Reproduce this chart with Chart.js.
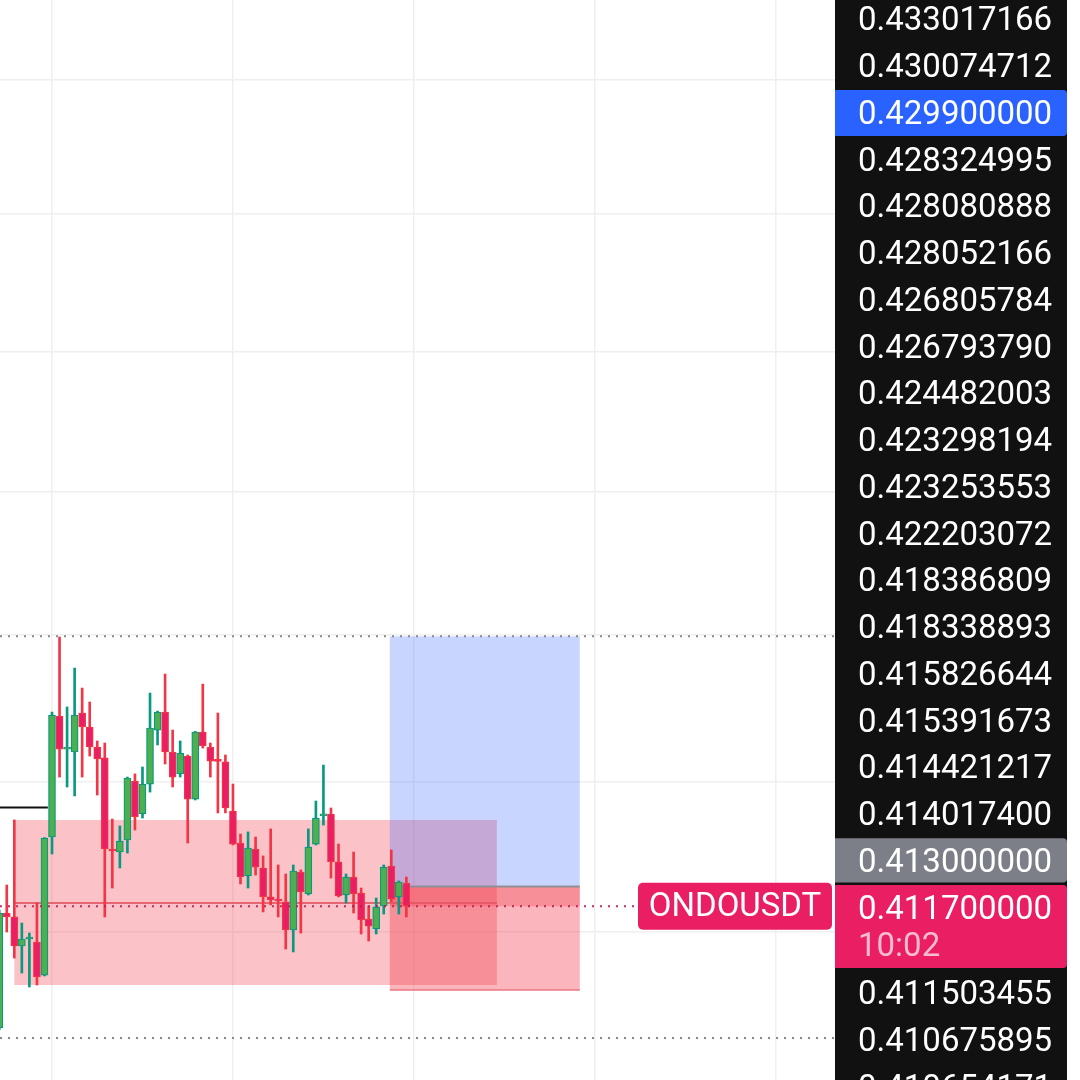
<!DOCTYPE html>
<html><head><meta charset="utf-8">
<script src="https://cdn.jsdelivr.net/npm/chart.js@4.4.1/dist/chart.umd.min.js"></script>
<style>html,body{margin:0;padding:0;background:#fff;overflow:hidden}#wrap{width:1080px;height:1080px;position:relative}</style>
</head><body><div id="wrap"><canvas id="c" width="1080" height="1080"></canvas></div>
<script>
// ---------- data ----------
const firstSlot = -7; // slot index of the first visible candle (grid line at slot 0)
const opens  = [0.40374,0.41125,0.41099,0.40908,0.40954,0.40934,0.40718,0.41629,0.42444,0.42220,0.42200,0.42465,0.42370,0.42234,0.42160,0.41549,0.41529,0.41609,0.42004,0.41783,0.41984,0.42349,0.42471,0.42200,0.42052,0.42173,0.41883,0.42336,0.42234,0.42139,0.42133,0.41803,0.41589,0.41370,0.41549,0.41423,0.41231,0.41211,0.41198,0.41013,0.41396,0.41251,0.41582,0.41770,0.41783,0.41463,0.41244,0.41363,0.41257,0.41085,0.41020,0.41171,0.41436,0.41231,0.41323];
const highs  = [0.41145,0.41310,0.41743,0.41059,0.40993,0.41191,0.41625,0.42471,0.42985,0.42506,0.42772,0.42635,0.42540,0.42275,0.42261,0.41749,0.41703,0.42031,0.42052,0.42099,0.42601,0.42478,0.42731,0.42349,0.42275,0.42180,0.42340,0.42662,0.42261,0.42465,0.42180,0.41984,0.41649,0.41663,0.41629,0.41503,0.41683,0.41443,0.41383,0.41443,0.41410,0.41683,0.41870,0.42112,0.41823,0.41582,0.41383,0.41529,0.41290,0.41171,0.41224,0.41443,0.41543,0.41337,0.41363];
const lows   = [0.40361,0.41000,0.40829,0.40731,0.40640,0.40653,0.40712,0.41516,0.42031,0.41964,0.41904,0.42031,0.42173,0.41910,0.41099,0.41290,0.41423,0.41522,0.41676,0.41756,0.41930,0.42248,0.42119,0.41964,0.42031,0.41589,0.41877,0.42227,0.42031,0.41790,0.41790,0.41576,0.41317,0.41290,0.41376,0.41132,0.41178,0.41099,0.40888,0.40869,0.40993,0.41244,0.41576,0.41709,0.41356,0.41231,0.41191,0.41125,0.40987,0.40941,0.40987,0.41118,0.41198,0.41118,0.41099];
const closes = [0.41125,0.41099,0.40908,0.40954,0.40961,0.40705,0.41622,0.42451,0.42220,0.42221,0.42451,0.42370,0.42234,0.42153,0.41549,0.41536,0.41602,0.42025,0.41763,0.41984,0.42363,0.42471,0.42200,0.42031,0.42193,0.41883,0.42336,0.42241,0.42139,0.42137,0.41823,0.41582,0.41363,0.41556,0.41429,0.41231,0.41211,0.41204,0.41013,0.41403,0.41264,0.41562,0.41756,0.41776,0.41463,0.41237,0.41363,0.41251,0.41079,0.41039,0.41165,0.41429,0.41217,0.41330,0.41170];

const priceGrid = [0.41,0.42,0.43,0.44,0.45,0.46,0.47];
const timeGrid  = [0,24,48,72,96];

const sideLabels = ['0.433017166','0.430074712','0.429900000','0.428324995','0.428080888','0.428052166','0.426805784','0.426793790','0.424482003','0.423298194','0.423253553','0.422203072','0.418386809','0.418338893','0.415826644','0.415391673','0.414421217','0.414017400','0.413000000','0.411700000','10:02','0.411503455','0.410675895','0.410654171'];

const symbol = 'ONDOUSDT';
const lastPrice = 0.4117;
const entryPrice = 0.413, targetPrice = 0.4299, stopPrice = 0.4062;
const positionFrom = 44.8, positionTo = 70;
const rangeHigh = 0.41743, rangeLow = 0.40653, rangeMid = 0.41191;
const rangeFrom = -5, rangeTo = 59;
const priorLevel = 0.41827, priorTo = -0.55;
const dottedLevels = [0.4299, 0.40309];

// ---------- view ----------
const viewMinSlot = -6.897, viewMaxSlot = 103.85;
const viewMinPrice = 0.400387, viewMaxPrice = 0.476067;
const rowMin = -0.4064, rowMax = 22.695;

const slots = opens.map((_, i) => i + firstSlot);
const isUp = opens.map((o, i) => closes[i] >= o);
const UP_FILL = '#4caf50', UP_LINE = '#089981', DN_FILL = '#e91e63', DN_LINE = '#f23645';

function rowOf(i){ return i <= 19 ? i : (i === 20 ? 19.8 : i - 0.17); }
function noPad(s){ s.paddingTop = 0; s.paddingBottom = 0; s.paddingLeft = 0; s.paddingRight = 0; }

const bgPlugin = {
  id: 'bg',
  beforeDraw(chart){
    const {ctx} = chart; const s = chart.scales.yl;
    ctx.save();
    ctx.fillStyle = '#ffffff'; ctx.fillRect(0,0,chart.width,chart.height);
    ctx.fillStyle = '#111111';
    ctx.fillRect(s.left, 0, s.right - s.left, chart.height);
    const box = (r0, r1, color) => {
      const y0 = s.getPixelForValue(r0), y1 = s.getPixelForValue(r1);
      ctx.fillStyle = color;
      ctx.beginPath();
      ctx.roundRect(s.left, y0 + 1, s.right - s.left, y1 - y0 - 1, [0,4,4,0]);
      ctx.fill();
    };
    box(rowOf(2) - 0.5, rowOf(2) + 0.5, '#2962ff');
    box(rowOf(18) - 0.5, rowOf(18) + 0.47, '#7d7f88');
    box(rowOf(19) - 0.5, rowOf(20) + 0.5, '#e91e63');
    ctx.restore();
  }
};

const drawPlugin = {
  id: 'drawings',
  beforeDatasetsDraw(chart){
    const {ctx, chartArea: a} = chart; const x = chart.scales.x, y = chart.scales.y;
    const X = v => x.getPixelForValue(v), Y = v => y.getPixelForValue(v);
    ctx.save();
    ctx.beginPath(); ctx.rect(a.left, a.top, a.right - a.left, a.bottom - a.top); ctx.clip();
    ctx.fillStyle = 'rgba(242,54,69,0.30)';
    ctx.fillRect(X(rangeFrom), Y(rangeHigh), X(rangeTo) - X(rangeFrom), Y(rangeLow) - Y(rangeHigh));
    ctx.fillStyle = 'rgba(41,98,255,0.26)';
    ctx.fillRect(X(positionFrom), Y(targetPrice), X(positionTo) - X(positionFrom), Y(entryPrice) - Y(targetPrice));
    ctx.fillStyle = 'rgba(242,54,69,0.36)';
    ctx.fillRect(X(positionFrom), Y(entryPrice), X(positionTo) - X(positionFrom), Y(stopPrice) - Y(entryPrice));
    ctx.fillStyle = 'rgba(242,54,69,0.30)';
    ctx.fillRect(X(positionFrom), Y(entryPrice), X(positionTo) - X(positionFrom), Y(lastPrice) - Y(entryPrice));
    ctx.lineWidth = 2; ctx.strokeStyle = '#8f8f96';
    ctx.beginPath(); ctx.moveTo(X(positionFrom), Y(entryPrice)); ctx.lineTo(X(positionTo), Y(entryPrice)); ctx.stroke();
    ctx.lineWidth = 1.5; ctx.strokeStyle = 'rgba(232,110,120,0.9)';
    ctx.beginPath(); ctx.moveTo(X(positionFrom), Y(stopPrice)); ctx.lineTo(X(positionTo), Y(stopPrice)); ctx.stroke();
    ctx.lineWidth = 2; ctx.strokeStyle = 'rgba(226,86,98,0.85)';
    ctx.beginPath(); ctx.moveTo(X(rangeFrom), Y(rangeMid)); ctx.lineTo(X(rangeTo), Y(rangeMid)); ctx.stroke();
    ctx.lineWidth = 2; ctx.strokeStyle = '#111111';
    ctx.beginPath(); ctx.moveTo(a.left, Y(priorLevel)); ctx.lineTo(X(priorTo), Y(priorLevel)); ctx.stroke();
    ctx.setLineDash([2,6]); ctx.lineWidth = 2; ctx.strokeStyle = '#8a8a8a';
    dottedLevels.forEach(p => { ctx.beginPath(); ctx.moveTo(a.left, Y(p)); ctx.lineTo(a.right, Y(p)); ctx.stroke(); });
    ctx.restore();
  },
  afterDatasetsDraw(chart){
    const {ctx, chartArea: a} = chart; const y = chart.scales.y;
    const yp = y.getPixelForValue(lastPrice);
    ctx.save();
    const bx1 = a.right - 3, bw = 194, bx0 = bx1 - bw;
    ctx.setLineDash([2,6]); ctx.lineWidth = 2; ctx.strokeStyle = 'rgba(190,24,84,0.9)';
    ctx.beginPath(); ctx.moveTo(a.left, yp); ctx.lineTo(bx0, yp); ctx.stroke();
    ctx.setLineDash([]);
    ctx.fillStyle = '#e91e63';
    ctx.beginPath(); ctx.roundRect(bx0, yp - 23.5, bw, 47, 5); ctx.fill();
    ctx.fillStyle = '#ffffff'; ctx.font = '33px Roboto'; ctx.textAlign = 'center'; ctx.textBaseline = 'middle';
    ctx.fillText(symbol, bx0 + bw / 2, yp + 2);
    ctx.restore();
  }
};

new Chart(document.getElementById('c'), {
  type: 'bar',
  data: {
    datasets: [
      {
        label: 'body', order: 0, grouped: false,
        data: slots.map((s, i) => ({x: s, y: [opens[i], closes[i]]})),
        backgroundColor: isUp.map(u => u ? UP_FILL : DN_FILL),
        borderColor: isUp.map(u => u ? UP_LINE : DN_LINE),
        borderWidth: 1.2, borderSkipped: false, barThickness: 7, minBarLength: 2
      },
      {
        label: 'wick', order: 1, grouped: false,
        data: slots.map((s, i) => ({x: s, y: [lows[i], highs[i]]})),
        backgroundColor: isUp.map(u => u ? UP_LINE : DN_LINE),
        borderWidth: 0, barThickness: 2
      }
    ]
  },
  options: {
    responsive: false, animation: false, devicePixelRatio: 1,
    layout: {padding: {left: 0, right: 13, top: 0, bottom: 0}},
    plugins: {legend: {display: false}, tooltip: {enabled: false}},
    scales: {
      x: {
        type: 'linear', min: viewMinSlot, max: viewMaxSlot, bounds: 'data', offset: false,
        afterBuildTicks: s => { s.ticks = timeGrid.map(v => ({value: v})); },
        ticks: {display: false}, border: {display: false},
        grid: {color: '#efefef', lineWidth: 1.5, drawTicks: false, offset: false},
        afterFit: s => { s.height = 0; noPad(s); }
      },
      y: {
        type: 'logarithmic', position: 'left', min: viewMinPrice, max: viewMaxPrice, bounds: 'data',
        afterBuildTicks: s => { s.ticks = priceGrid.map(v => ({value: v})); },
        ticks: {display: false}, border: {display: false},
        grid: {color: '#efefef', lineWidth: 1.5, drawTicks: false},
        afterFit: s => { s.width = 0; noPad(s); }
      },
      yl: {
        type: 'linear', position: 'right', reverse: true, min: rowMin, max: rowMax, bounds: 'data',
        afterBuildTicks: s => { s.ticks = sideLabels.map((_, i) => ({value: rowOf(i)})); },
        ticks: {
          autoSkip: false, padding: 23, labelOffset: 3,
          font: {family: 'Roboto', size: 33},
          color: c => c.index === 20 ? '#f8bbd0' : '#ffffff',
          callback: (v, i) => sideLabels[i]
        },
        grid: {display: false, drawTicks: false}, border: {display: false},
        afterFit: s => { s.width = 232; noPad(s); }
      }
    }
  },
  plugins: [bgPlugin, drawPlugin]
});
</script>
</body></html>
